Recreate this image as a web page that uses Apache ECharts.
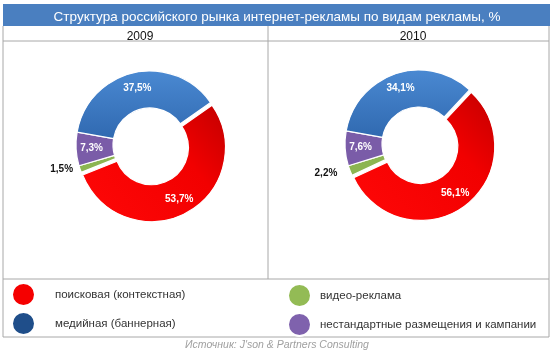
<!DOCTYPE html>
<html>
<head>
<meta charset="utf-8">
<script src="https://cdn.jsdelivr.net/npm/echarts@6/dist/echarts.min.js"></script>
<style>
  html, body { margin: 0; padding: 0; background: #fff; }
  #main { width: 554px; height: 352px; }
</style>
</head>
<body>
<div id="main"></div>
<script>
// категории (порядок легенды)
var categories = ['поисковая (контекстная)', 'медийная (баннерная)', 'видео-реклама', 'нестандартные размещения и кампании'];
var years = ['2009', '2010'];
var share2009 = [53.7, 37.5, 1.5, 7.3];
var share2010 = [56.1, 34.1, 2.2, 7.6];
// порядок секторов по часовой стрелке
var pieOrder = [0, 2, 3, 1];

var sliceColors = [
    new echarts.graphic.LinearGradient(1, 0, 0, 1, [
        {offset: 0, color: '#c20000'}, {offset: 0.35, color: '#f20000'}, {offset: 1, color: '#ff0808'}
    ]),
    new echarts.graphic.LinearGradient(0, 0, 0, 1, [
        {offset: 0, color: '#4a89d2'}, {offset: 1, color: '#3069b0'}
    ]),
    '#8cb552',
    '#7a5ca8'
];
var legendColors = ['#f50000', '#1f4e8a', '#93bb55', '#7f62ad'];
var font = 'Liberation Sans';

function buildData(values, outLen) {
    return pieOrder.map(function (i) {
        var item = {
            name: categories[i],
            value: values[i],
            itemStyle: {color: sliceColors[i]}
        };
        if (i == 0) item.selected = true;
        if (i == 2) {
            // маленький сектор - подпись снаружи
            item.label = {position: 'outside', color: '#111'};
            item.labelLine = {show: false, length: outLen, length2: 2};
        }
        return item;
    });
}

function pieSeries(values, center, startAngle, outLen) {
    return {
        type: 'pie',
        center: center,
        radius: [37, 74],
        startAngle: startAngle,
        clockwise: true,
        selectedMode: 'single',
        selectedOffset: 3,
        avoidLabelOverlap: false,
        animation: false,
        emphasis: {disabled: true},
        itemStyle: {borderColor: '#fff', borderWidth: 1.2},
        label: {
            show: true,
            position: 'inside',
            color: '#fff',
            fontFamily: font,
            fontWeight: 'bold',
            fontSize: 10,
            formatter: function (p) {
                return p.value.toFixed(1).replace('.', ',') + '%';
            }
        },
        labelLine: {show: false},
        data: buildData(values, outLen)
    };
}

var lineStyle = {stroke: '#a8a8a8', lineWidth: 1};

var chart = echarts.init(document.getElementById('main'));
var option = {
    backgroundColor: '#fff',
    title: [
        {
            text: 'Структура российского рынка интернет-рекламы по видам рекламы, %',
            left: 'center', top: 5,
            textStyle: {color: '#fff', fontFamily: font, fontSize: 13.5, fontWeight: 'normal'}
        },
        {
            text: years[0], left: 135, top: 26, textAlign: 'center',
            textStyle: {color: '#111', fontFamily: font, fontSize: 12, fontWeight: 'normal'}
        },
        {
            text: years[1], left: 408, top: 26, textAlign: 'center',
            textStyle: {color: '#111', fontFamily: font, fontSize: 12, fontWeight: 'normal'}
        },
        {
            text: 'Источник: J\'son & Partners Consulting',
            left: 'center', top: 335,
            textStyle: {color: '#a0a0a0', fontFamily: font, fontSize: 10.5, fontStyle: 'italic', fontWeight: 'normal'}
        }
    ],
    graphic: [
        {type: 'rect', z: -1, shape: {x: 3, y: 4, width: 547, height: 22}, style: {fill: '#4a7fc0'}},
        {type: 'line', shape: {x1: 3, y1: 26, x2: 3, y2: 337}, style: lineStyle},
        {type: 'line', shape: {x1: 549, y1: 26, x2: 549, y2: 337}, style: lineStyle},
        {type: 'line', shape: {x1: 3, y1: 41, x2: 549, y2: 41}, style: lineStyle},
        {type: 'line', shape: {x1: 268, y1: 26, x2: 268, y2: 279}, style: lineStyle},
        {type: 'line', shape: {x1: 3, y1: 279, x2: 549, y2: 279}, style: lineStyle},
        {type: 'line', shape: {x1: 3, y1: 337, x2: 549, y2: 337}, style: lineStyle}
    ],
    legend: [
        {
            orient: 'vertical', left: 11, top: 282, padding: 0,
            icon: 'circle', itemWidth: 23, itemHeight: 23, itemGap: 4,
            selectedMode: false,
            textStyle: {color: '#333', fontFamily: font, fontSize: 11.5, padding: [0, 0, 0, 15]},
            data: [
                {name: categories[0], itemStyle: {color: legendColors[0]}},
                {name: categories[1], itemStyle: {color: legendColors[1]}}
            ]
        },
        {
            orient: 'vertical', left: 287, top: 283, padding: 0,
            icon: 'circle', itemWidth: 23, itemHeight: 23, itemGap: 4,
            selectedMode: false,
            textStyle: {color: '#333', fontFamily: font, fontSize: 11.5, padding: [0, 0, 0, 4]},
            data: [
                {name: categories[2], itemStyle: {color: legendColors[2]}},
                {name: categories[3], itemStyle: {color: legendColors[3]}}
            ]
        }
    ],
    series: [
        pieSeries(share2009, [150, 145], 35, 0),
        pieSeries(share2010, [419, 144], 47, 6)
    ]
};
chart.setOption(option);
</script>
</body>
</html>
